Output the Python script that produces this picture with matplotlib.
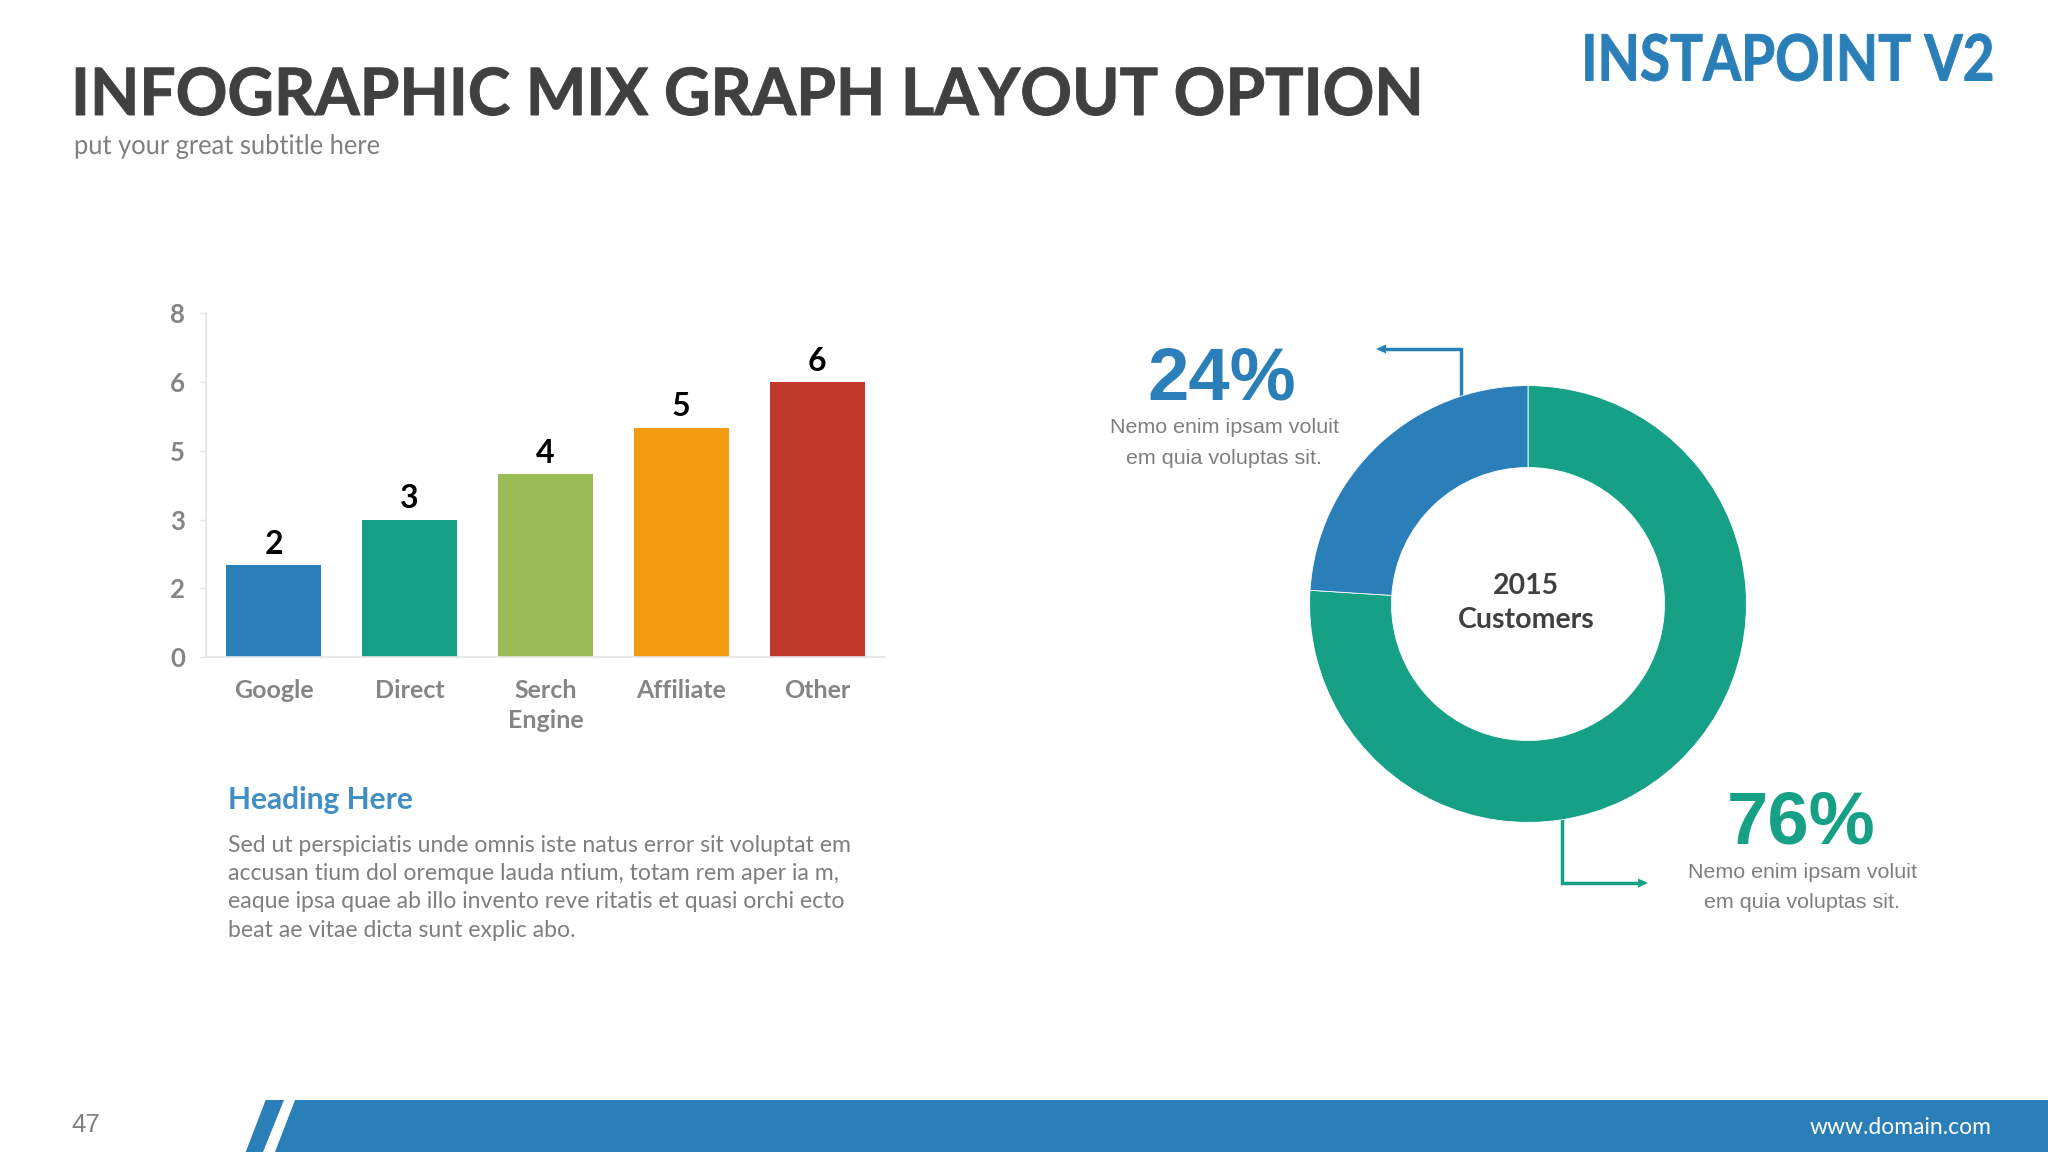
import matplotlib
matplotlib.use("Agg")
import matplotlib.pyplot as plt
from matplotlib.patches import Polygon
from matplotlib.text import Text
from matplotlib.textpath import TextPath
from matplotlib.transforms import Affine2D, Bbox
from matplotlib.colors import to_rgba

W, H = 2048, 1152
BLUE, GREEN, LIME, ORANGE, RED = "#2a7fb8", "#16a085", "#9bbb59", "#f39c12", "#c0392b"
DARK, GRAY = "#404040", "#7f7f7f"

categories = ["Google", "Direct", "Serch\nEngine", "Affiliate", "Other"]
values = [2.13, 3.2, 4.26, 5.34, 6.39]
bar_labels = ["2", "3", "4", "5", "6"]
bar_colors = [BLUE, GREEN, LIME, ORANGE, RED]
y_ticks = [0, 1.6, 3.2, 4.8, 6.4, 8]
y_tick_labels = ["0", "2", "3", "5", "6", "8"]
donut_labels = ["Others", "Google"]
donut_values = [76, 24]
donut_colors = [GREEN, BLUE]


class SqueezedText(Text):
    """A text drawn narrower than its font's natural width, with optional extra weight."""

    def __init__(self, x, y, s, squeeze=1.0, stroke=0.0, **kw):
        super().__init__(x, y, s, **kw)
        self._squeeze, self._stroke = squeeze, stroke

    def _layout_path(self):
        k = self.get_figure().dpi / 72
        path = TextPath((0, 0), self.get_text(), prop=self.get_fontproperties())
        w = path.get_extents().x1 * self._squeeze * k
        px, py = self.get_transform().transform(self.get_position())
        if self.get_ha() == "right":
            px -= w
        return path, Affine2D().scale(self._squeeze * k, k).translate(px, py)

    def get_window_extent(self, renderer=None, dpi=None):
        path, tr = self._layout_path()
        return Bbox(path.get_extents(tr))

    def draw(self, renderer):
        path, tr = self._layout_path()
        gc = renderer.new_gc()
        gc.set_foreground(self.get_color())
        gc.set_linewidth(self._stroke)
        gc.set_antialiased(True)
        renderer.draw_path(gc, path, tr, rgbFace=to_rgba(self.get_color()))
        gc.restore()


fig = plt.figure(figsize=(W / 100, H / 100), dpi=100, facecolor="white")

# Page overlay in pixel coordinates
pg = fig.add_axes([0, 0, 1, 1])
pg.set_xlim(0, W)
pg.set_ylim(H, 0)
pg.axis("off")

pg.add_artist(SqueezedText(71, 115, "INFOGRAPHIC MIX GRAPH LAYOUT OPTION", squeeze=0.982, stroke=0.7,
                           family="Lato", weight="bold", fontsize=47, color=DARK))
pg.add_artist(SqueezedText(74, 154, "put your great subtitle here", squeeze=0.94,
                           family="Lato", fontsize=19.5, color=GRAY))
pg.add_artist(SqueezedText(1992, 80.5, "INSTAPOINT V2", squeeze=0.86, stroke=0.7, ha="right",
                           family="Lato", weight="bold", fontsize=46, color=BLUE))

pg.text(228, 809, "Heading Here", family="Lato", weight="bold", fontsize=21.5, color="#3f8fc4", va="baseline")
body = ["Sed ut perspiciatis unde omnis iste natus error sit voluptat em",
        "accusan tium dol oremque lauda ntium, totam rem aper ia m,",
        "eaque ipsa quae ab illo invento reve ritatis et quasi orchi ecto",
        "beat ae vitae dicta sunt explic abo."]
for i, line in enumerate(body):
    pg.text(228, 851.5 + i * 28.4, line, family="Lato", fontsize=16.6, color=GRAY, va="baseline")

# Callouts
pg.text(1222, 400, "24%", family="Liberation Sans", weight="bold", fontsize=53.5, color=BLUE, ha="center", va="baseline")
pg.text(1224, 433, "Nemo enim ipsam voluit", family="Liberation Sans", fontsize=15.45, color=GRAY, ha="center", va="baseline")
pg.text(1224, 463.5, "em quia voluptas sit.", family="Liberation Sans", fontsize=15.45, color=GRAY, ha="center", va="baseline")
pg.text(1801, 843, "76%", family="Liberation Sans", weight="bold", fontsize=53.5, color=GREEN, ha="center", va="baseline")
pg.text(1802, 877.5, "Nemo enim ipsam voluit", family="Liberation Sans", fontsize=15.45, color=GRAY, ha="center", va="baseline")
pg.text(1802, 908, "em quia voluptas sit.", family="Liberation Sans", fontsize=15.45, color=GRAY, ha="center", va="baseline")

pg.plot([1461, 1461, 1384], [397, 349, 349], color=BLUE, lw=2.5, solid_joinstyle="miter")
pg.add_patch(Polygon([[1376, 349], [1386, 344.5], [1386, 353.5]], color=BLUE, lw=0))
pg.plot([1562, 1562, 1640], [820, 883, 883], color=GREEN, lw=2.5, solid_joinstyle="miter")
pg.add_patch(Polygon([[1648, 883], [1638, 878.5], [1638, 887.5]], color=GREEN, lw=0))

# Footer
pg.add_patch(Polygon([[265.7, 1100], [284, 1100], [263, 1152], [245.7, 1152]], color=BLUE, lw=0))
pg.add_patch(Polygon([[295, 1100], [W, 1100], [W, 1152], [275, 1152]], color=BLUE, lw=0))
pg.text(71, 1132, "47", family="Liberation Sans", fontsize=18.5, color=GRAY, va="baseline")
pg.text(1992, 1134, "www.domain.com", family="Lato", fontsize=16.5, color="white", ha="right", va="baseline")

# Bar chart
ax = fig.add_axes([206 / W, 1 - 657 / H, (885 - 206) / W, (657 - 313.3) / H])
x = range(len(categories))
bars = ax.bar(x, values, width=0.7, color=bar_colors, linewidth=0)
ax.set_xlim(-0.5, 4.5)
ax.set_ylim(0, 8)
ax.set_yticks(y_ticks, y_tick_labels)
ax.set_xticks(list(x), categories)
ax.patch.set_alpha(0)
for s in ("top", "right"):
    ax.spines[s].set_visible(False)
for s in ("left", "bottom"):
    ax.spines[s].set_color("#e4e4e4")
    ax.spines[s].set_linewidth(1.2)
ax.tick_params(axis="y", length=4.6, width=1, color="#e4e4e4", pad=10.4, labelsize=18.5, labelcolor="#858585")
ax.tick_params(axis="x", length=0, pad=16, labelsize=18, labelcolor="#858585")
for t in ax.get_xticklabels():
    t.set_family("Lato")
    t.set_weight("bold")
    t.set_linespacing(1.36)
for t in ax.get_yticklabels():
    t.set_family("Lato")
    t.set_weight("bold")
for r, lab in zip(bars, bar_labels):
    ax.annotate(lab, (r.get_x() + r.get_width() / 2, r.get_height()), xytext=(0, 4.4),
                textcoords="offset points", ha="center", va="bottom", family="Lato",
                weight="bold", fontsize=23, color="black")

# Donut
cx, cy, R = 1528, 604, 218.4
dx = fig.add_axes([(cx - R) / W, 1 - (cy + R) / H, 2 * R / W, 2 * R / H])
dx.pie(donut_values, colors=donut_colors, startangle=90, counterclock=False, radius=1,
       wedgeprops=dict(width=0.375, edgecolor="white", linewidth=0.6))
dx.set_xlim(-1, 1)
dx.set_ylim(-1, 1)
dx.text(-0.01, 0.082, "2015", family="Lato", weight="bold", fontsize=20.5, color=DARK, ha="center", va="center")
dx.text(-0.01, -0.073, "Customers", family="Lato", weight="bold", fontsize=20.5, color=DARK, ha="center", va="center")

fig.savefig("out.png", dpi=100)
